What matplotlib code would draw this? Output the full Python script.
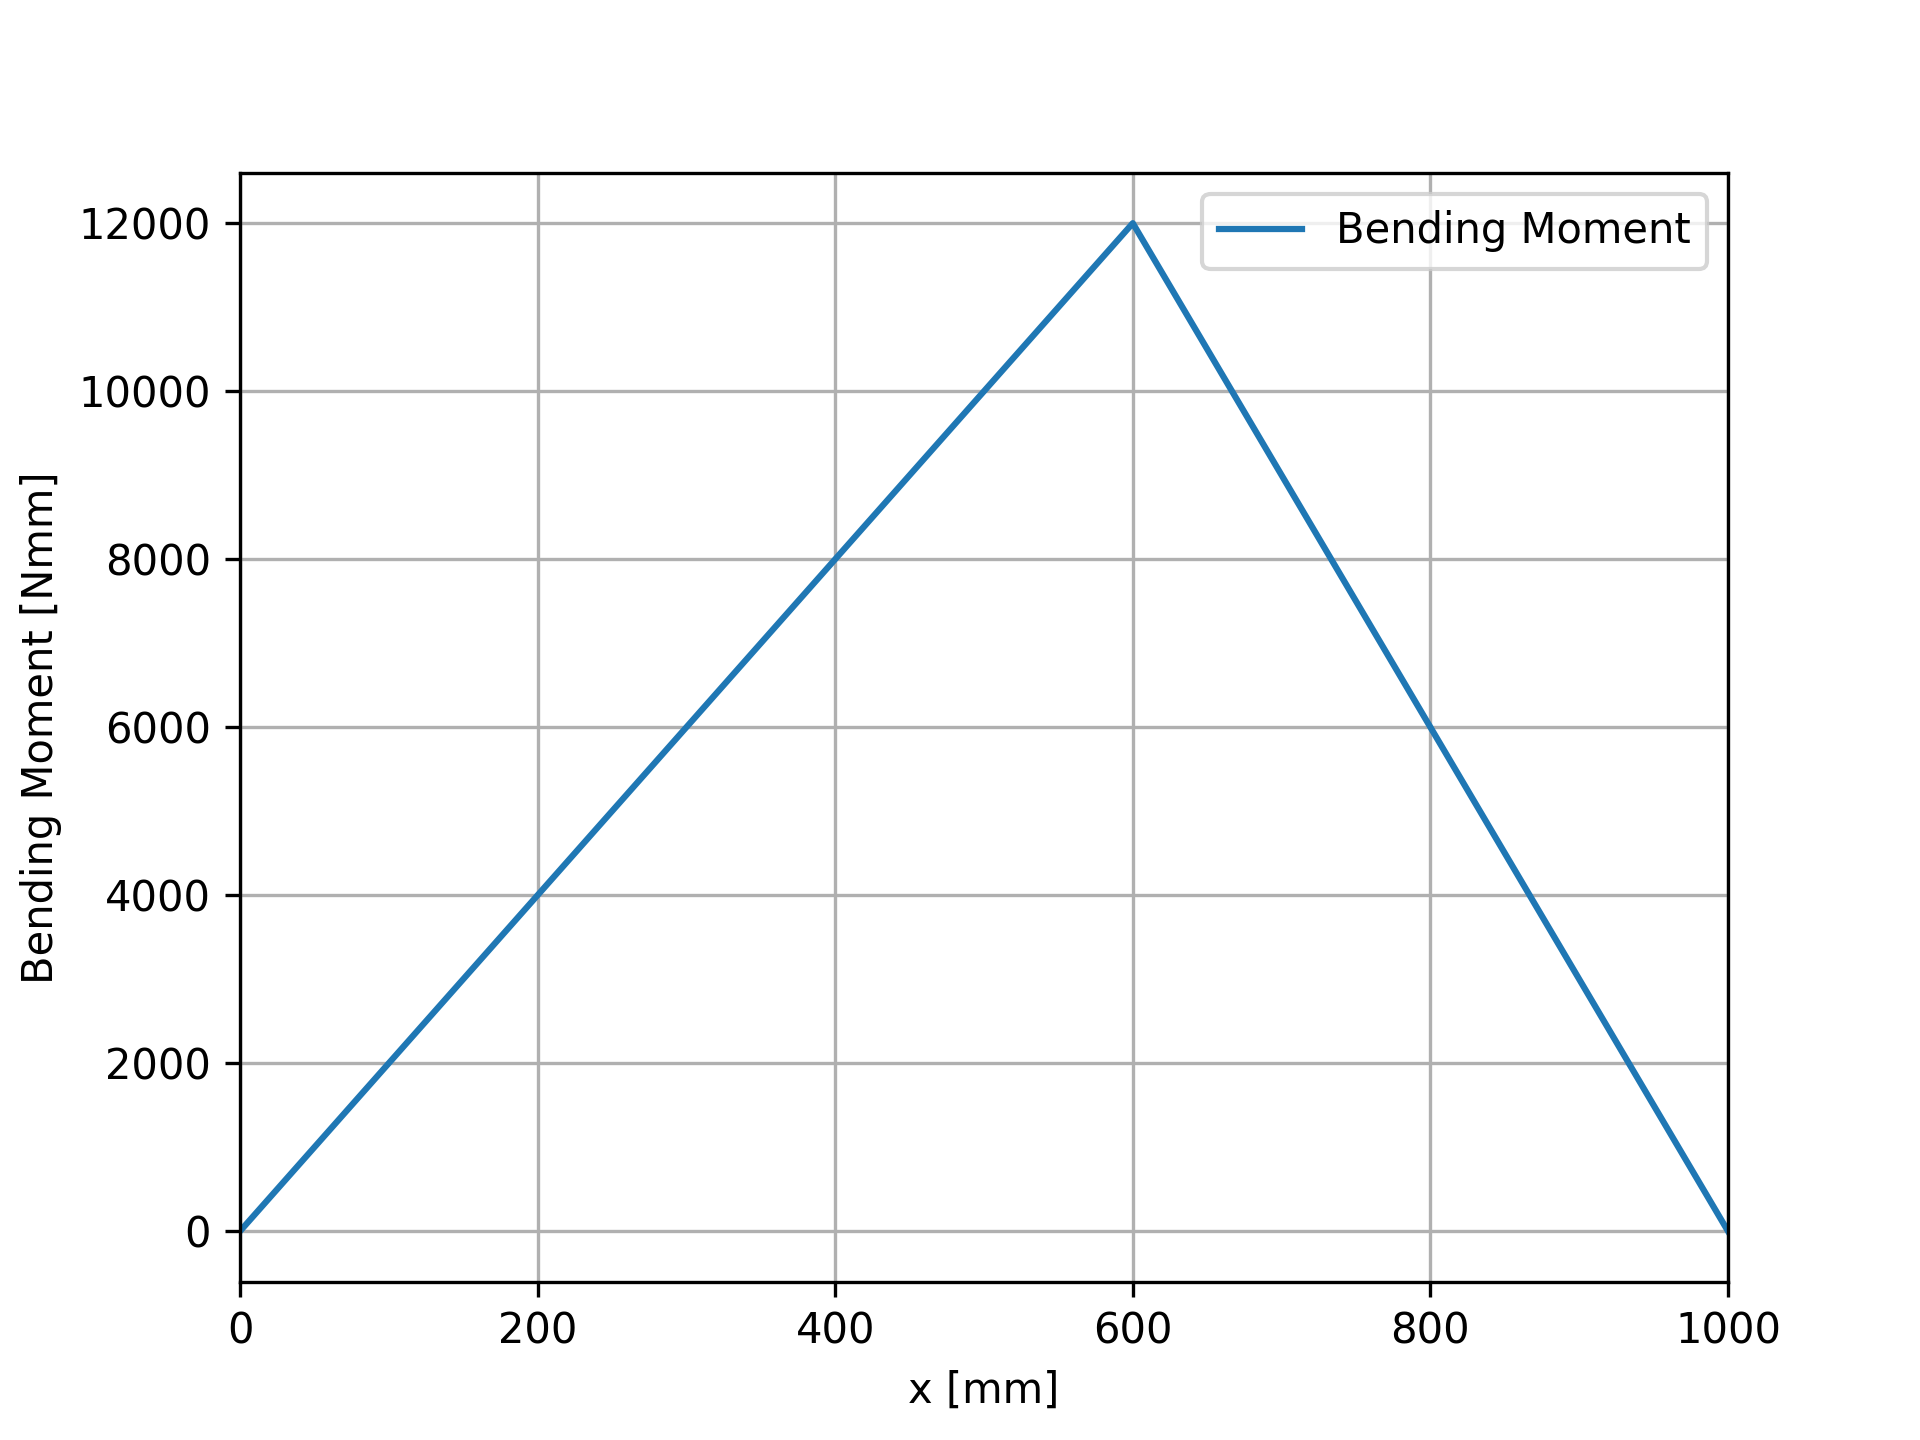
import matplotlib as mpl
mpl.use('Agg')
import matplotlib.pyplot as plt

# beam positions and bending moment at those points
x_mm = [0, 600, 1000]
moment_nmm = [0, 12000, 0]

fig = plt.figure(figsize=(6.4, 4.8), dpi=300)
ax = fig.add_subplot(111)
ax.plot(x_mm, moment_nmm, label='Bending Moment')
ax.set_xlim(0, 1000)
ax.set_xlabel('x [mm]')
ax.set_ylabel('Bending Moment [Nmm]')
ax.grid(True)
ax.legend(loc='upper right')

fig.savefig('out.png', dpi=300)
